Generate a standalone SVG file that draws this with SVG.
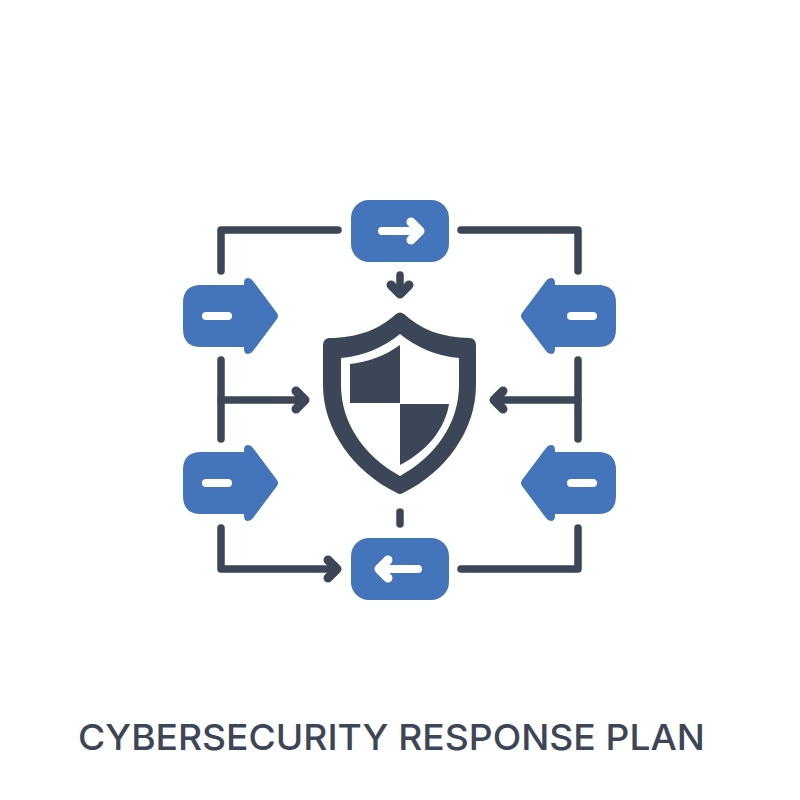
<svg xmlns="http://www.w3.org/2000/svg" width="800" height="800" viewBox="0 0 800 800">
<style>
.c{fill:none;stroke:#3c4656;stroke-width:7.5;stroke-linecap:round;stroke-linejoin:round}
.h{fill:none;stroke:#3c4656;stroke-width:9;stroke-linecap:round;stroke-linejoin:round}
.b{fill:#4474ba}
.w{fill:none;stroke:#fff;stroke-width:8;stroke-linecap:round;stroke-linejoin:round}
.wh{fill:none;stroke:#fff;stroke-width:9;stroke-linecap:round;stroke-linejoin:round}
.d{fill:#3c4656}
.t{font-family:Inter,"Liberation Sans",sans-serif;font-size:36px;font-weight:500;fill:#3c4656}
</style>
<defs>
<path id="r" class="b" d="M201 285H244V283Q244 278 248 278Q251 278 253 281L277 313Q279 316 277 319L253 351Q251 354 248 354Q244 354 244 349V347H201Q183 347 183 329V303Q183 285 201 285Z"/>
</defs>
<rect width="800" height="800" fill="#fff"/>
<g id="connectors">
<path class="c" d="M338 230H221V271"/>
<path class="c" d="M461 230H578V271"/>
<path class="c" d="M221 360V439"/>
<path class="c" d="M578 360V439"/>
<path class="c" d="M221 400H302"/>
<path class="h" d="M296 391L305 400L296 409"/>
<path class="c" d="M578 400H497"/>
<path class="h" d="M503 391L494 400L503 409"/>
<path class="c" d="M400 275V291"/>
<path class="h" d="M391 285L400 294L409 285"/>
<path class="c" d="M400 512V524"/>
<path class="c" d="M221 528V569H334"/>
<path class="h" d="M328 560L337 569L328 578"/>
<path class="c" d="M578 528V569H461"/>
</g>
<g id="node-top">
<rect class="b" x="351" y="200" width="98" height="62" rx="18"/>
<path class="w" d="M382 231H417"/>
<path class="wh" d="M411 222L420 231L411 240"/>
</g>
<g id="node-left-upper">
<use href="#r"/>
<path class="w" d="M206 316H228"/>
</g>
<g id="node-left-lower">
<use href="#r" y="167"/>
<path class="w" d="M206 483H228"/>
</g>
<g id="node-right-upper">
<use href="#r" transform="matrix(-1 0 0 1 799 0)"/>
<path class="w" d="M571 316H593"/>
</g>
<g id="node-right-lower">
<use href="#r" transform="matrix(-1 0 0 1 799 167)"/>
<path class="w" d="M571 483H593"/>
</g>
<g id="node-bottom">
<rect class="b" x="351" y="538" width="98" height="62" rx="18"/>
<path class="w" d="M418 569H383"/>
<path class="wh" d="M388 560L379 569L388 578"/>
</g>
<g id="shield">
<path class="d" d="M396 314Q400 311 404 314C420 329 442 338 470 338Q476 339 476 345V385C476 430 446 472 403 493Q400 495 397 493C354 472 323 430 323 385V345Q323 339 329 338C358 338 380 329 396 314Z"/>
<path fill="#fff" d="M400 334C416 347 436 356 459 358V385C459 423 436 456 400 476C364 456 341 423 341 385V358C364 356 384 347 400 334Z"/>
<path class="d" d="M400 345V403H350V364C369 362 386 355 400 345Z"/>
<path class="d" d="M400 404H449C445 429 427 451 400 465Z"/>
</g>
<text id="title" class="t" x="78" y="749.5" textLength="627" lengthAdjust="spacingAndGlyphs">CYBERSECURITY RESPONSE PLAN</text>
</svg>
